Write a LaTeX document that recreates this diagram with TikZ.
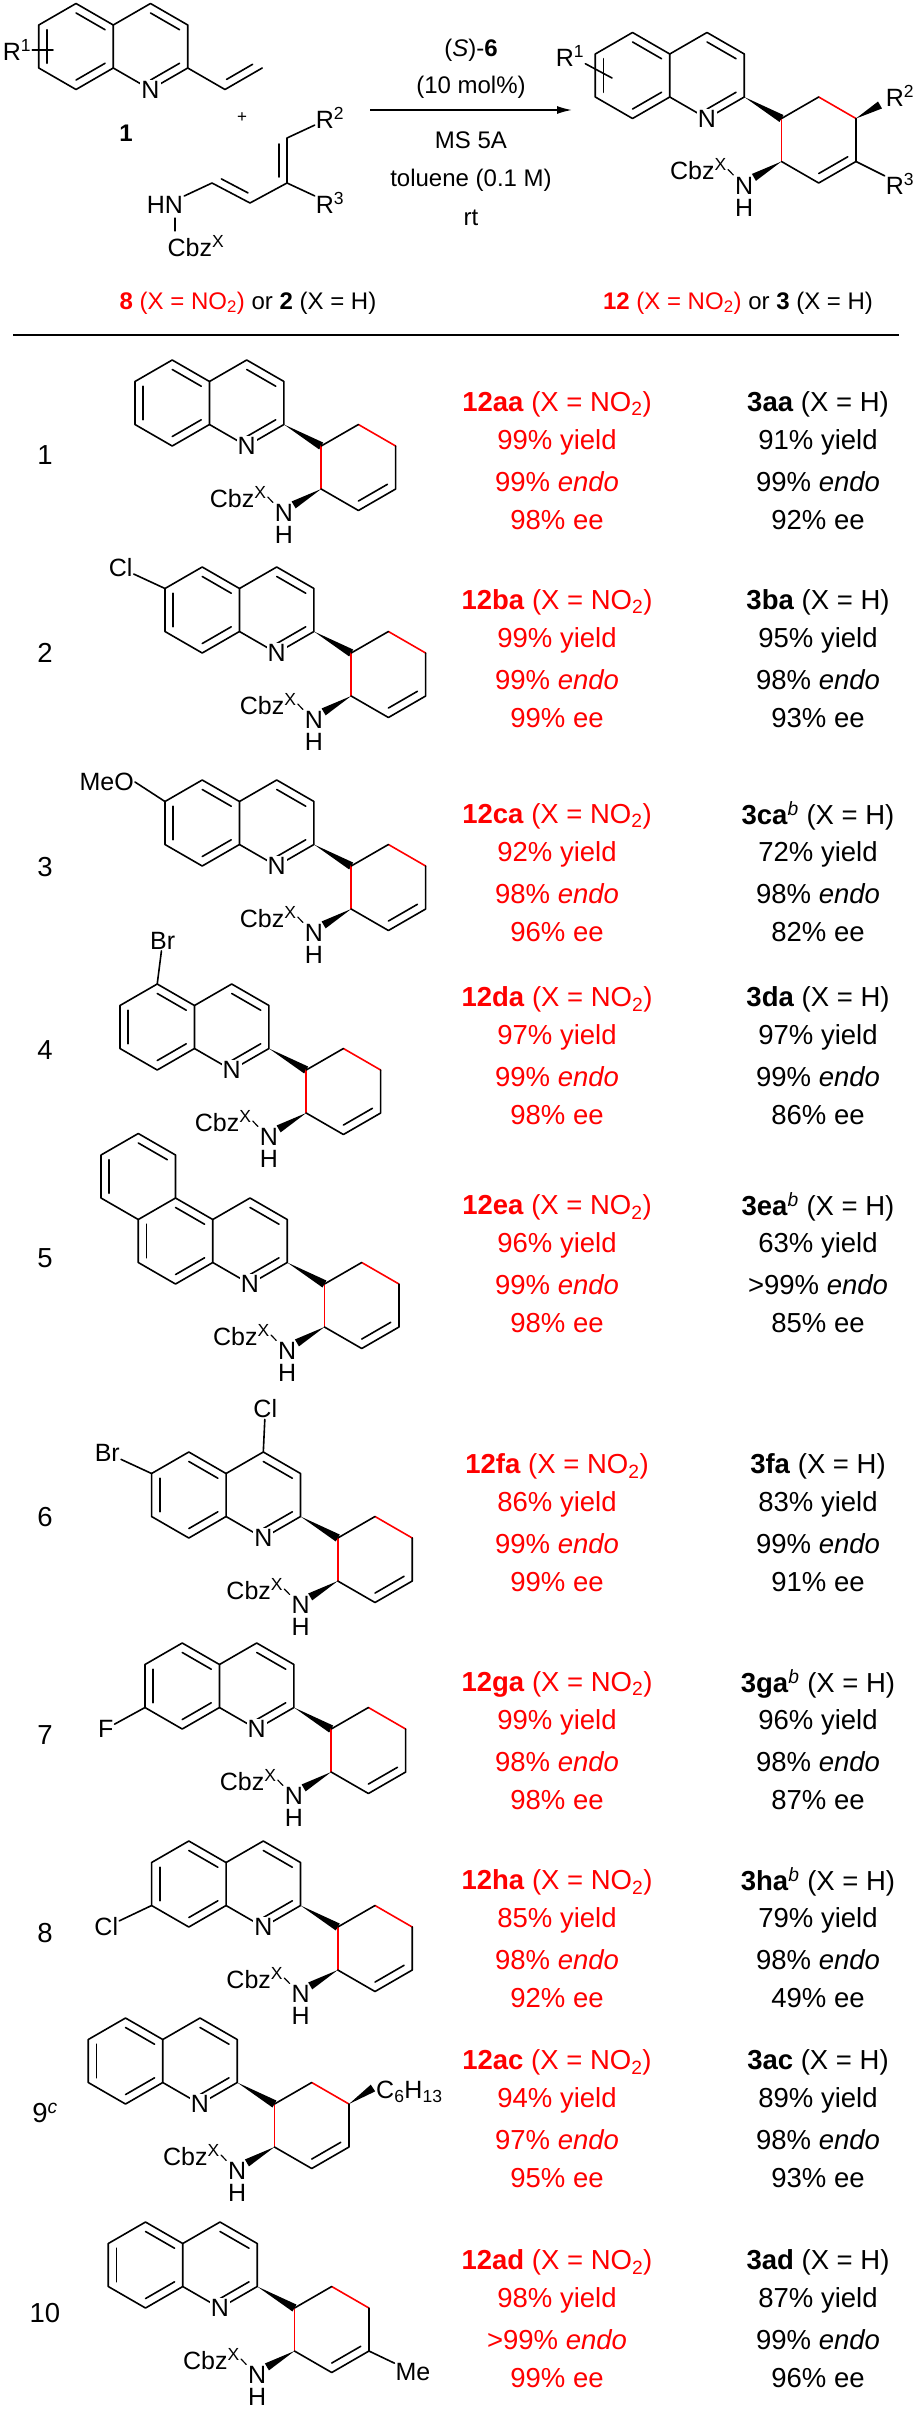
\documentclass[tikz,border=0pt]{standalone}
\usepackage{fontspec}
\setmainfont{Liberation Sans}
\usetikzlibrary{calc,arrows.meta}
\definecolor{rd}{RGB}{255,0,0}
\tikzset{
 bond/.style={line width=1.6pt,line cap=round,line join=round},
 rbond/.style={bond,draw=rd},
 atom/.style={inner sep=1pt,fill=white,font=\fontsize{25}{28}\selectfont},
 lbl/.style={inner sep=1pt,font=\fontsize{25}{28}\selectfont},
 txt/.style={inner sep=0pt,font=\fontsize{27.5}{30}\selectfont},
 rtxt/.style={txt,text=rd},
 ttxt/.style={inner sep=0pt,font=\fontsize{24}{28}\selectfont}
}
\newcommand\ringdbl[3]{\draw[bond] ($(#1)!0.78!(#2)$) -- ($(#1)!0.78!(#3)$);}
\newcommand\wedgeb[2]{\fill ($(#1)$) -- ($(#2)!4pt!90:(#1)$) -- ($(#2)!4pt!-90:(#1)$) -- cycle;}
\newcommand\quin[1]{%
 \coordinate (Rt) at (0,-43); \coordinate (RUR) at (37.24,-21.5);
 \coordinate (RLR) at (37.24,21.5); \coordinate (RB) at (0,43);
 \coordinate (RLL) at (-37.24,21.5); \coordinate (RUL) at (-37.24,-21.5);
 \coordinate (Lc) at (-74.48,0); \coordinate (Rc) at (0,0);
 \coordinate (Lt) at (-74.48,-43); \coordinate (LB) at (-74.48,43);
 \coordinate (LLL) at (-111.72,21.5); \coordinate (LUL) at (-111.72,-21.5);
 \draw[bond] (Lt)--(RUL)--(RLL)--(LB)--(LLL)--(LUL)--cycle;
 \draw[bond] (RUL)--(Rt)--(RUR)--(RLR)--(RB)--(RLL);
 \ringdbl{Lc}{LUL}{LLL}\ringdbl{Lc}{Lt}{RUL}\ringdbl{Lc}{LB}{RLL}
 \ringdbl{Rc}{Rt}{RUR}\ringdbl{Rc}{RLR}{RB}
 \node[atom] (#1N) at (RB) {N};}
\newcommand\chex[1]{%
 \coordinate (C1) at (74.48,43); \coordinate (Ht) at (111.72,21.5);
 \coordinate (HUR) at (148.96,43); \coordinate (HLR) at (148.96,86);
 \coordinate (HB) at (111.72,107.5); \coordinate (C2) at (74.48,86);
 \coordinate (Hc) at (111.72,64.5); \coordinate (Nq) at (37.24,107.5);
 \wedgeb{RLR}{C1}
 \draw[rbond] (C1)--(C2); \draw[rbond] (Ht)--(HUR);
 \draw[bond] (C1)--(Ht); \draw[bond] (HUR)--(HLR)--(HB)--(C2);
 \ringdbl{Hc}{HLR}{HB}
 \node[lbl] (#1n) at (37.24,110) {N};
 \node[lbl] (#1h) at (37.24,132) {H};
 \coordinate (Wq) at ($(C2)!0.74!(Nq)$);
 \wedgeb{C2}{Wq}
 \node[lbl,anchor=east] (#1c) at (21,94) {Cbz\textsuperscript{X}};
 \draw[bond,line width=1.2pt,shorten >=1pt] (#1c.east) -- (#1n.north west);}
\newcommand\entry[9]{%
 \node[txt] (l#1) at (45,#2) {#3};
 \node[rtxt] (a#1) at (557,#2-51) {#4 (X = NO\textsubscript{2})};
 \node[rtxt] (b#1) at (557,#2-12.3) {#5\% yield};
 \node[rtxt] (c#1) at (557,#2+26.4) {#6\% \textit{endo}};
 \node[rtxt] (d#1) at (557,#2+65.1) {#7\% ee};
 \node[txt] (e#1) at (818,#2-51) {#8 (X = H)};
 \node[txt] (f#1) at (818,#2-12.3) {#9};}
\newcommand\entryb[4]{%
 \node[txt] (g#1) at (818,#2+26.4) {#3\% \textit{endo}};
 \node[txt] (k#1) at (818,#2+65.1) {#4\% ee};}
\begin{document}
\begin{tikzpicture}[x=1pt,y=-1pt]
\useasboundingbox (0,0) rectangle (917,2409);
% ---------- reactant 1
\begin{scope}[shift={(150.5,46.5)}]
 \quin{s1}
 \coordinate (V1) at (74.48,43); \coordinate (V2) at (111.72,21.5);
 \draw[bond] (RLR)--(V1)--(V2);
 \coordinate (V3) at (76.1,32.9); \coordinate (V4) at (102.1,17.8);
 \draw[bond] (V3)--(V4);
 \node[lbl] (sr1) at (-133.5,3.5) {R\textsuperscript{1}};
 \coordinate (sp1) at (-97.5,3.5);
 \draw[bond] (sr1)--(sp1);
\end{scope}
\node[ttxt] (one) at (126,133) {\textbf{1}};
\node[inner sep=0pt,font=\fontsize{17}{20}\selectfont] (plus) at (242,118) {+};
% ---------- diene
\node[lbl] (hn) at (165,205) {HN};
\coordinate (D1) at (212,183); \coordinate (D2) at (250,203);
\coordinate (D3) at (287,183); \coordinate (D4) at (287,138);
\node[lbl] (dr2) at (330,118) {R\textsuperscript{2}};
\node[lbl] (dr3) at (330,203) {R\textsuperscript{3}};
\draw[bond] (hn)--(D1)--(D2)--(D3)--(D4)--(dr2);
\draw[bond] (D3)--(dr3);
\coordinate (D5) at (221.4,178.9); \coordinate (D6) at (248,192.9);
\draw[bond] (D5)--(D6);
\coordinate (D7) at (279,144); \coordinate (D8) at (279,177);
\draw[bond] (D7)--(D8);
\node[lbl] (dcbz) at (196,246) {Cbz\textsuperscript{X}};
\coordinate (hq1) at (175,218); \coordinate (hq2) at (175,231);
\draw[bond,line width=1.2pt] (hq1)--(hq2);
% ---------- conditions
\coordinate (ar1) at (370,110); \coordinate (ar2) at (572,110);
\draw[line width=1.6pt,-{Latex[length=15pt,width=8pt]}] (ar1)--(ar2);
\node[ttxt] (k1) at (471,50) {(\textit{S})-\textbf{6}};
\node[ttxt] (k2) at (471,87) {(10 mol\%)};
\node[ttxt] (k3) at (471,140) {MS 5A};
\node[ttxt] (k4) at (471,180) {toluene (0.1 M)};
\node[ttxt] (k5) at (471,218) {rt};
% ---------- product
\begin{scope}[shift={(707,75.5)}]
 \quin{p}
 \chex{p}
 \node[lbl] (pr1) at (-137,-20) {R\textsuperscript{1}};
 \coordinate (pp1) at (-95,2.5);
 \draw[bond] (pr1)--(pp1);
 \coordinate (pw) at (173,29.5);
 \wedgeb{HUR}{pw}
 \node[lbl] (pr2) at (193,20) {R\textsuperscript{2}};
 \node[lbl] (pr3) at (193,108) {R\textsuperscript{3}};
 \draw[bond] (HLR)--(pr3);
\end{scope}
\node[ttxt] (cap1) at (248,303) {\textcolor{rd}{\textbf{8} (X = NO\textsubscript{2})} or \textbf{2} (X = H)};
\node[ttxt] (cap2) at (738,303) {\textcolor{rd}{\textbf{12} (X = NO\textsubscript{2})} or \textbf{3} (X = H)};
\coordinate (sep1) at (13,335); \coordinate (sep2) at (899,335);
\draw[line width=1.6pt] (sep1)--(sep2);
% ---------- rows
\begin{scope}[shift={(246.7,403)}] \quin{m1} \chex{m1} \end{scope}
\begin{scope}[shift={(276.7,610)}] \quin{m2} \chex{m2}
 \node[lbl] (x2) at (-156,-42) {Cl}; \draw[bond] (LUL)--(x2); \end{scope}
\begin{scope}[shift={(276.7,823)}] \quin{m3} \chex{m3}
 \node[lbl] (x3) at (-170,-41) {MeO}; \draw[bond] (LUL)--(x3.east); \end{scope}
\begin{scope}[shift={(231.7,1027)}] \quin{m4} \chex{m4}
 \node[lbl] (x4) at (-69,-86) {Br}; \draw[bond] (Lt)--(x4); \end{scope}
\begin{scope}[shift={(250,1241)}] \quin{m5} \chex{m5}
 \coordinate (Tc) at (-111.72,-64.5);
 \coordinate (Tt) at (-111.72,-107.5); \coordinate (TUR) at (-74.48,-86);
 \coordinate (TLL) at (-148.96,-43); \coordinate (TUL) at (-148.96,-86);
 \draw[bond] (Lt)--(TUR)--(Tt)--(TUL)--(TLL)--(LUL);
 \ringdbl{Tc}{Tt}{TUR}\ringdbl{Tc}{TUL}{TLL}
\end{scope}
\begin{scope}[shift={(263.3,1495)}] \quin{m6} \chex{m6}
 \node[lbl] (x6) at (2,-86) {Cl}; \draw[bond] (Rt)--(x6);
 \node[lbl] (y6) at (-156,-42) {Br}; \draw[bond] (LUL)--(y6); \end{scope}
\begin{scope}[shift={(256.7,1686)}] \quin{m7} \chex{m7}
 \node[lbl] (x7) at (-151,43) {F}; \draw[bond] (LLL)--(x7); \end{scope}
\begin{scope}[shift={(263.3,1884)}] \quin{m8} \chex{m8}
 \node[lbl] (x8) at (-157,43) {Cl}; \draw[bond] (LLL)--(x8); \end{scope}
\begin{scope}[shift={(200,2061)}] \quin{m9} \chex{m9}
 \coordinate (w9) at (173,27); \wedgeb{HUR}{w9}
 \node[lbl,anchor=west] (x9) at (175,31) {C\textsubscript{6}H\textsubscript{13}}; \end{scope}
\begin{scope}[shift={(220,2265)}] \quin{m10} \chex{m10}
 \node[lbl] (x10) at (193,107) {Me}; \draw[bond] (HLR)--(x10); \end{scope}
% ---------- texts
\entry{1}{455}{1}{\textbf{12aa}}{99}{99}{98}{\textbf{3aa}}{91\% yield}\entryb{1}{455}{99}{92}
\entry{2}{653}{2}{\textbf{12ba}}{99}{99}{99}{\textbf{3ba}}{95\% yield}\entryb{2}{653}{98}{93}
\entry{3}{867}{3}{\textbf{12ca}}{92}{98}{96}{\textbf{3ca}\textsuperscript{\textit{b}}}{72\% yield}\entryb{3}{867}{98}{82}
\entry{4}{1050}{4}{\textbf{12da}}{97}{99}{98}{\textbf{3da}}{97\% yield}\entryb{4}{1050}{99}{86}
\entry{5}{1258}{5}{\textbf{12ea}}{96}{99}{98}{\textbf{3ea}\textsuperscript{\textit{b}}}{63\% yield}\entryb{5}{1258}{>99}{85}
\entry{6}{1517}{6}{\textbf{12fa}}{86}{99}{99}{\textbf{3fa}}{83\% yield}\entryb{6}{1517}{99}{91}
\entry{7}{1735}{7}{\textbf{12ga}}{99}{98}{98}{\textbf{3ga}\textsuperscript{\textit{b}}}{96\% yield}\entryb{7}{1735}{98}{87}
\entry{8}{1933}{8}{\textbf{12ha}}{85}{98}{92}{\textbf{3ha}\textsuperscript{\textit{b}}}{79\% yield}\entryb{8}{1933}{98}{49}
\entry{9}{2113}{9\textsuperscript{\textit{c}}}{\textbf{12ac}}{94}{97}{95}{\textbf{3ac}}{89\% yield}\entryb{9}{2113}{98}{93}
\entry{10}{2313}{10}{\textbf{12ad}}{98}{>99}{99}{\textbf{3ad}}{87\% yield}\entryb{10}{2313}{99}{96}
\end{tikzpicture}
\end{document}
